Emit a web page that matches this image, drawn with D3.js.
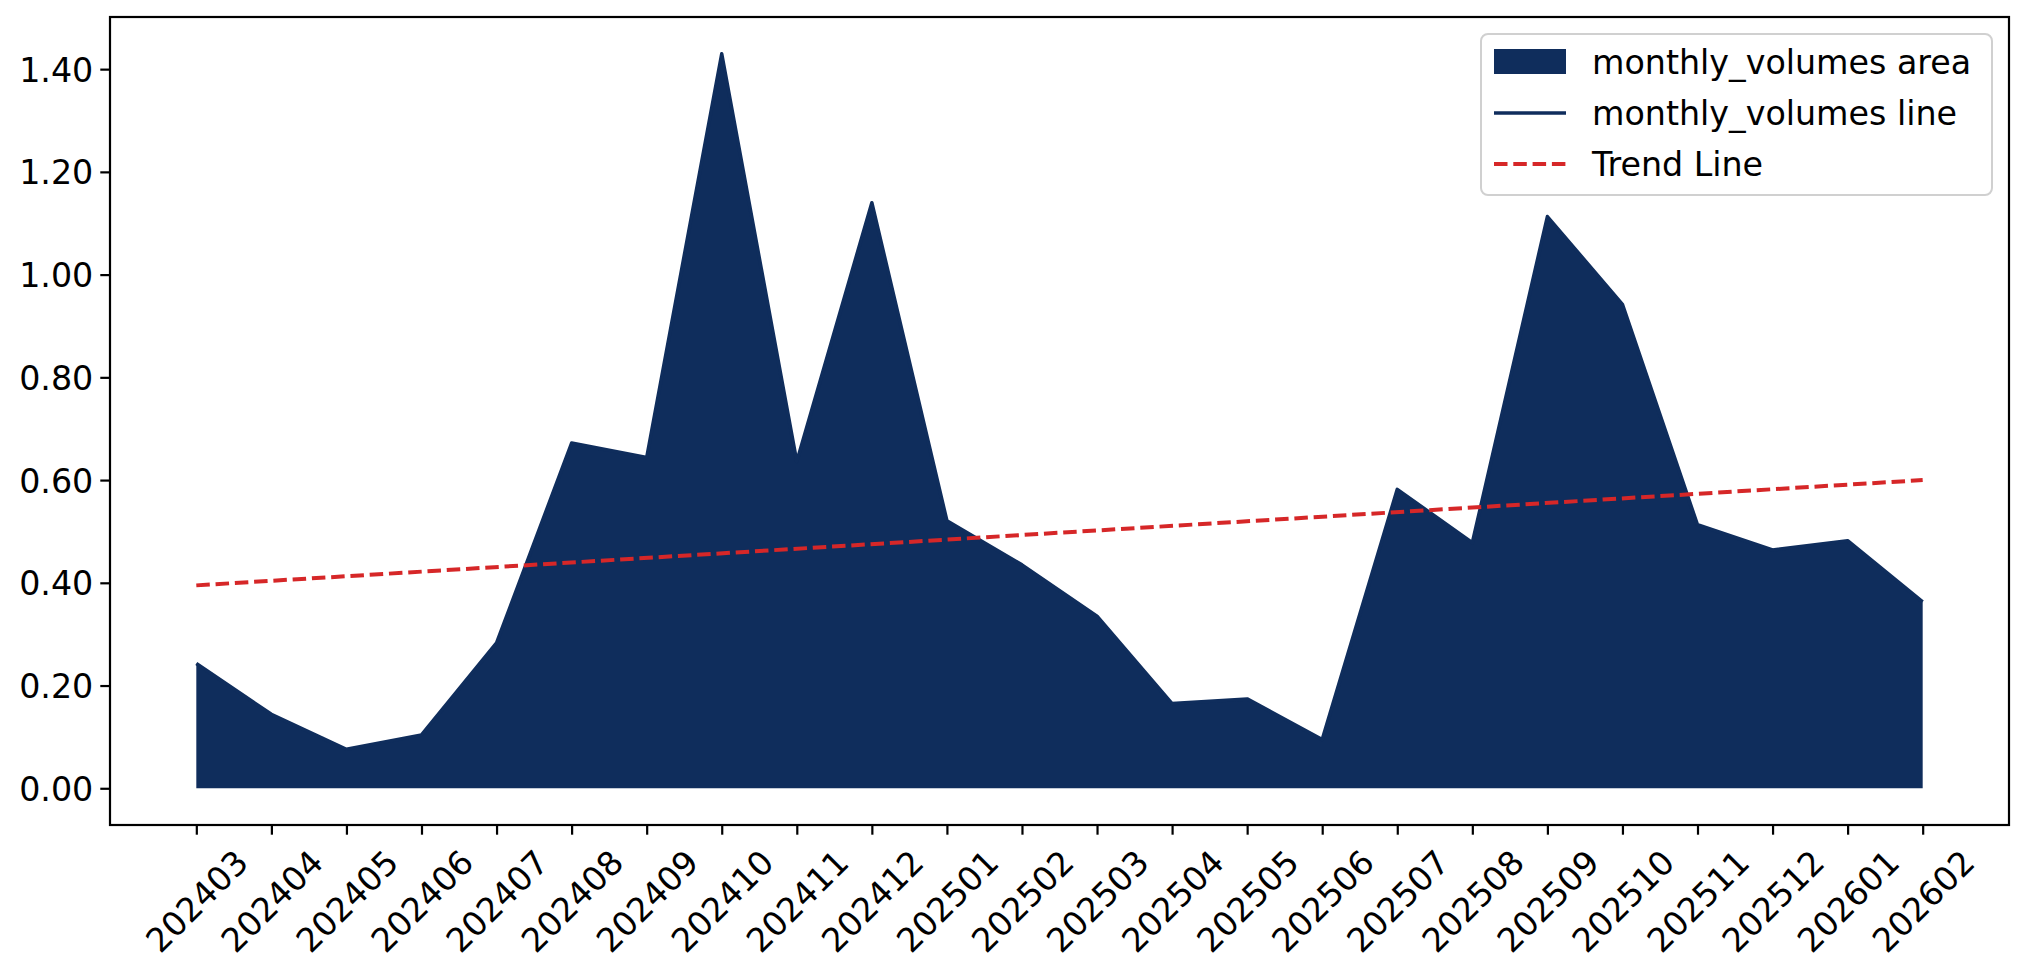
<!DOCTYPE html>
<html>
<head>
<meta charset="utf-8">
<script src="https://cdn.jsdelivr.net/npm/d3@7"></script>
<style>
  body { margin: 0; background: #fff; }
  svg text { font-family: "DejaVu Sans", sans-serif; font-size: 33.3px; fill: #000; }
</style>
</head>
<body>
<svg id="chart" width="2026" height="975"></svg>
<script>
const months = ["202403", "202404", "202405", "202406", "202407", "202408", "202409", "202410",
  "202411", "202412", "202501", "202502", "202503", "202504", "202505", "202506",
  "202507", "202508", "202509", "202510", "202511", "202512", "202601", "202602"];
const volumes = [0.243, 0.144, 0.076, 0.104, 0.283, 0.672, 0.644, 1.430,
  0.636, 1.140, 0.521, 0.435, 0.335, 0.165, 0.174, 0.095,
  0.582, 0.478, 1.113, 0.942, 0.513, 0.464, 0.482, 0.363];
// trend line: value at first and last month
const trendMonths = ["202403", "202602"];
const trendValues = [0.395, 0.600];
const yTicks = [0, 0.2, 0.4, 0.6, 0.8, 1.0, 1.2, 1.4];
const legendLabels = ["monthly_volumes area", "monthly_volumes line", "Trend Line"];

const navy = "#0f2d5c";
const red = "#d62728";

const box = { left: 110, right: 2009, top: 17, bottom: 825 };
const svg = d3.select("#chart");

const x = d3.scalePoint()
  .domain(months)
  .range([box.left, box.right])
  .padding(1.15);

const yMax = d3.max(volumes);
const y = d3.scaleLinear()
  .domain([-0.05 * yMax, 1.05 * yMax])
  .range([box.bottom, box.top]);

const rows = months.map((m, i) => ({ m: m, v: volumes[i] }));

// area + line
svg.append("path")
  .datum(rows)
  .attr("fill", navy)
  .attr("d", d3.area().x(d => x(d.m)).y0(y(0)).y1(d => y(d.v)));

svg.append("path")
  .datum(rows)
  .attr("fill", "none")
  .attr("stroke", navy)
  .attr("stroke-width", 3.5)
  .attr("stroke-linejoin", "round")
  .attr("d", d3.line().x(d => x(d.m)).y(d => y(d.v)));

// trend
svg.append("path")
  .datum(trendMonths.map((m, i) => ({ m: m, v: trendValues[i] })))
  .attr("fill", "none")
  .attr("stroke", red)
  .attr("stroke-width", 4)
  .attr("stroke-dasharray", "13.5,5.8")
  .attr("d", d3.line().x(d => x(d.m)).y(d => y(d.v)));

// axes
const yAxis = svg.append("g")
  .attr("transform", `translate(${box.left},0)`)
  .call(d3.axisLeft(y)
    .tickValues(yTicks)
    .tickFormat(d3.format(".2f"))
    .tickSizeOuter(0)
    .tickSizeInner(9.7)
    .tickPadding(7));
yAxis.select(".domain").remove();
yAxis.selectAll("line").attr("stroke", "#000").attr("stroke-width", 2.2);
yAxis.selectAll("text").attr("dy", "0.36em").style("font-size", "33.3px");

const xAxis = svg.append("g")
  .attr("transform", `translate(0,${box.bottom})`)
  .call(d3.axisBottom(x).tickSizeOuter(0).tickSizeInner(9.7));
xAxis.select(".domain").remove();
xAxis.selectAll("line").attr("stroke", "#000").attr("stroke-width", 2.2);
xAxis.selectAll("text")
  .attr("y", 0)
  .attr("dy", "0.36em")
  .attr("text-anchor", "middle")
  .attr("transform", "translate(0,76) rotate(-45)")
  .style("font-size", "33.3px");

// frame
svg.append("rect")
  .attr("x", box.left)
  .attr("y", box.top)
  .attr("width", box.right - box.left)
  .attr("height", box.bottom - box.top)
  .attr("fill", "none")
  .attr("stroke", "#000")
  .attr("stroke-width", 2.2);

// legend
const legend = svg.append("g");
legend.append("rect")
  .attr("x", 1481).attr("y", 34)
  .attr("width", 511).attr("height", 161)
  .attr("rx", 7)
  .attr("fill", "#fff").attr("fill-opacity", 0.8)
  .attr("stroke", "#d0d0d0").attr("stroke-width", 2);

const rowY = d => 62 + d * 51;
legend.append("rect")
  .attr("x", 1494).attr("y", rowY(0) - 13)
  .attr("width", 72).attr("height", 25)
  .attr("fill", navy);
legend.append("line")
  .attr("x1", 1494).attr("x2", 1566)
  .attr("y1", rowY(1)).attr("y2", rowY(1))
  .attr("stroke", navy).attr("stroke-width", 3.5);
legend.append("line")
  .attr("x1", 1494).attr("x2", 1566)
  .attr("y1", rowY(2)).attr("y2", rowY(2))
  .attr("stroke", red).attr("stroke-width", 4)
  .attr("stroke-dasharray", "13.5,5.8");

legend.selectAll("text.lab")
  .data(legendLabels)
  .enter()
  .append("text")
  .attr("class", "lab")
  .attr("x", 1592)
  .attr("y", (d, i) => rowY(i))
  .attr("dy", "0.36em")
  .text(d => d);
</script>
</body>
</html>
